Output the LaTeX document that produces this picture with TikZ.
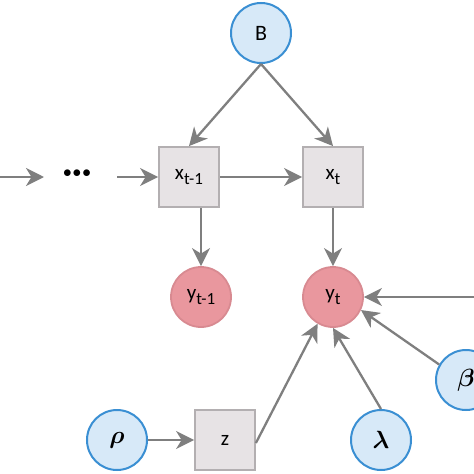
\documentclass[tikz,border=0pt]{standalone}
\usepackage{amsmath}
\usepackage{fontspec}
\setmainfont{Carlito}
\usetikzlibrary{arrows.meta}
\definecolor{bluefill}{HTML}{D7E9F8}
\definecolor{blueline}{HTML}{3A8FD3}
\definecolor{boxfill}{HTML}{E7E3E5}
\definecolor{boxline}{HTML}{B3AFB1}
\definecolor{redfill}{HTML}{E9979E}
\definecolor{redline}{HTML}{D88A91}
\definecolor{arrowgray}{HTML}{7F7F7F}
\newcommand{\mysub}[1]{\raisebox{-0.28em}{\fontsize{17}{17}\selectfont #1}}
\tikzset{
  param/.style={circle, draw=blueline, fill=bluefill, line width=2pt, minimum size=60pt, inner sep=0pt, font=\fontsize{22}{24}\selectfont},
  obs/.style={circle, draw=redline, fill=redfill, line width=1.8pt, minimum size=60pt, inner sep=0pt, font=\fontsize{21}{24}\selectfont},
  latent/.style={rectangle, draw=boxline, fill=boxfill, line width=1.8pt, minimum size=60pt, inner sep=0pt, font=\fontsize{21}{24}\selectfont},
  conn/.style={draw=arrowgray, line width=2.3pt, -{Stealth[length=18pt,width=18pt,inset=5.5pt]}},
}
\begin{document}
\begin{tikzpicture}[x=1pt,y=-1pt]
\useasboundingbox (0,0) rectangle (474,474);
\node[param] (B) at (261,33) {B};
\node[latent] (xp) at (189,177) {x\mysub{t-1}};
\node[latent] (xt) at (333,177) {x\mysub{t}};
\node[obs] (yp) at (201,297) {y\mysub{t-1}};
\node[obs] (yt) at (333,297) {y\mysub{t}};
\node[param, font=\fontsize{24}{26}\selectfont] (rho) at (117,440) {$\boldsymbol{\rho}$};
\node[latent] (z) at (225,440) {z};
\node[param, font=\fontsize{24}{26}\selectfont] (lam) at (381,440) {$\boldsymbol{\lambda}$};
\node[param, font=\fontsize{24}{26}\selectfont] (beta) at (466,380) {$\boldsymbol{\beta}$};
\node[inner sep=0pt, font=\fontsize{16}{20}\selectfont] (dots) at (77,174) {$\bullet\!\bullet\!\bullet$};
\coordinate (l0) at (0,177);
\coordinate (l1) at (44,177);
\coordinate (l2) at (117,177);
\coordinate (r0) at (474,297);
\draw[conn] (l0) -- (l1);
\draw[conn] (l2) -- (xp.west);
\draw[conn] (B.south) -- (xp.north);
\draw[conn] (B.south) -- (xt.north);
\draw[conn] (xp) -- (xt);
\draw[conn] ([xshift=12pt]xp.south) -- (yp.north);
\draw[conn] (xt.south) -- (yt.north);
\draw[conn] (r0) -- (yt.east);
\draw[conn] (rho) -- (z);
\draw[conn] ([yshift=-3pt]z.east) -- (yt.240);
\draw[conn] (lam.north) -- (yt.south);
\draw[conn] (beta.150) -- (yt.-25);
\end{tikzpicture}
\end{document}
